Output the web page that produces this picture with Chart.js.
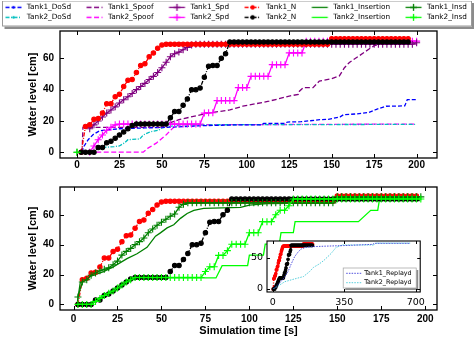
<!DOCTYPE html>
<html>
<head>
<meta charset="utf-8">
<script src="https://cdn.jsdelivr.net/npm/chart.js@4.4.0/dist/chart.umd.min.js"></script>
<style>
  html, body { margin: 0; padding: 0; background: #fff; overflow: hidden; }
  #wrap { position: relative; width: 474px; height: 338px; overflow: hidden; }
  #wrap canvas { position: absolute; }
</style>
</head>
<body>
<div id="wrap">
  <canvas id="top" width="484" height="174" style="left:-10px;top:1px"></canvas>
  <canvas id="bottom" width="474" height="163" style="left:0;top:175px"></canvas>
  <canvas id="inset" width="190" height="80" style="left:240px;top:230px"></canvas>
</div>
<script>
// sample times [s] shared by the marker series
const T = [0,2.5,5,7.5,10,12.5,15,17.5,20,22.5,25,27.5,30,32.5,35,37.5,40,42.5,45,47.5,
  50,52.5,55,57.5,60,62.5,65,67.5,70,72.5,75,77.5,80,82.5,85,87.5,90,92.5,95,97.5,
  100,102.5,105,107.5,110,112.5,115,117.5,120,122.5,125,127.5,130,132.5,135,137.5,140,142.5,145,147.5,
  150,152.5,155,157.5,160,162.5,165,167.5,170,172.5,175,177.5,180,182.5,185,187.5,190,192.5,195,197.5,200];

const tank1N = [null,0,16.5,17.5,21,21.5,25,31,31,35.5,
  37,42,46,46.5,51,55.5,56.5,61,63.5,66.5,
  68.5,69,69,69,69,69,69,69,69,69,
  69,69,69,69,69,69,69,69,69,69,
  69,69,69,69,69,69,69,69,69,69,
  69,69,69,69,69,69,69,69,69,69,
  72.5,72.5,72.5,72.5,72.5,72.5,72.5,72.5,72.5,72.5,
  72.5,72.5,72.5,72.5,72.5,72.5,72.5,72.5,72.5,null,null];
const tank2N = [null,0,0,0,0,3,3,6,7,9,
  11,13,15,17,18,18,18,18,18,18,
  18,18,22,26,26,30,34,40,40,41,
  48,55,55.5,55.5,60,63,70.5,70.5,70.5,70.5,
  70.5,70.5,70.5,70.5,70.5,70.5,70.5,70.5,70.5,70.5,
  70.5,70.5,70.5,70.5,70.5,70.5,70.5,70.5,70.5,70.5,
  70.5,70.5,70.5,70.5,70.5,70.5,70.5,70.5,70.5,70.5,
  70.5,70.5,70.5,70.5,70.5,70.5,70.5,70.5,70.5,null,null];
const tank1Spd = [null,null,null,15,17.5,20,22.5,25,27,29,
  31.5,33.5,35.5,37.5,40,42,44,46.5,48.5,51,
  54,57.5,61,63,64,65.5,67,68.5,69,69,
  69,69,69,69,69,69,69,69,69,69,
  69,69,69,69,69,69,69,69,69,69,
  69,69,69,69,69,69,69,69,69,69,
  69,69,69,69,69,69,69,69,69,69,
  69,69,69,69,69,69,69,69,69,69,70];
const tank2Spd = [null,null,null,0,4,8,11,14,16,17.5,
  18,18,18,18,18,18,18,18,18,18,
  18,18,18,18,18,18,18,18,18,18,
  25,25.2,25.2,33,33,33,33,33,41.3,41.3,
  41.3,48.5,48.5,48.5,48.5,48.5,56,56,56,56,
  63.5,63.5,63.5,63.5,71,71,71,71,71,71,
  71,71,71,71,71,71,71,71,71,71,
  71,71,71,71,71,71,71,71,71,71,71];
const tank1Insd = [null,5,15,16.5,19.5,21,22.5,23.5,24.5,26.5,
  29,33,35.5,37.5,40,42,44.5,48,50.5,53,
  55,57,59,60.5,65,67,68,68,68,68,
  68,68,68,68,68,68,68,68,68,68,
  68,68,68,68,68,68,68,68,68,68,
  68,68,68,68,68,68,68,68,68,68,
  72,72,72,72,72,72,72,72,72,72,
  72,72,72,72,72,72,72,72,72,72,null];
const tank2Insd = [null,0,0,0,0,2,4,6,7.5,9,
  11,13,15,16.5,18,18,18,18,18,18,
  18,18,18,18,18,18,18,18,18,18,
  22,25.2,25.2,32.8,32.8,36,40.3,40.3,40.3,40.3,
  48,48,48,55.4,55.4,55.4,60,63,63,66,
  70.6,70.6,70.6,70.6,70.6,70.6,70.6,70.6,70.6,70.6,
  70.6,70.6,70.6,70.6,70.6,70.6,70.6,70.6,70.6,70.6,
  70.6,70.6,70.6,70.6,70.6,70.6,70.6,70.6,70.6,70.6,null];

// line-only series: their own break points
const dosd1T = [3,4,6.6,9.4,13.4,19,25,40,55,75,95,108,110,122,124,132,143,148,155,157,165,172,176,182,193,194.5,200.5];
const dosd1V = [0,3.6,8,11.2,13.7,14.4,15,15.5,16,17,17.5,17.5,18.5,18.5,19.3,19.5,20.8,21,22.6,24,24.5,25.5,27.3,29.4,29.6,33.6,33.6];
const dosd2T = [15,22,25,28,30,37,39,43,48,50,55,60,200];
const dosd2V = [3,3.6,4,6,8,8.5,11,13,14,15.5,16.5,17.5,17.8];
const spoof1T = [3,3.5,50,54.5,60,78,90,97.6,113,125,130.4,131,133.3,139,142.7,150,154.5,157.5,160.4,166.3,172,175,180,200];
const spoof1V = [0,15.9,15.9,18.7,20.8,25.2,27,29.4,32.6,35.9,37,39,41.3,41.3,45.5,47,48.8,54,57.4,61.7,66,68.1,69.5,70];
const spoof2T = [2.5,39,41.8,46.7,52.6,56.5,60,200];
const spoof2V = [0,0,2.6,5.8,11.2,15.5,17.5,18];
const ins1T = [2,3,3.8,9.5,17.1,22.8,30.4,36.1,41.8,46.6,49.4,53.2,57,60.8,64.6,68.4,74,95,100,110,148,150,197];
const ins1V = [0,8,14.4,18.8,22,25.3,30.6,33.9,38.2,45.7,47.9,51.2,53.3,57.6,60.9,63,64.3,65,66.5,67.5,68,69.5,69.5];
const ins2T = [2,9,12,16,20,24,28,32,35,81,84.5,99,100,108,109,117,118,125,126,162,169,173,174,197];
const ins2V = [0,0,3,5,7,10,13,16,17.7,17.7,25.9,25.9,33,33,40.3,40.3,48,48,55.4,55.4,63,63,70.3,70.3];
// the top panel only carries the insertion runs at the origin
const originT = [0];
const originV = [0];

// replay runs (inset, long time scale)
const repl1T = [3,20,40,60,75,90,107,125,139,160,178,250,346,420,490,497,673];
const repl1V = [0,5,12,20,28,40,52,60,64.5,67,68,69,70,71,72,73.7,73.7];
const repl2T = [3,59,115,150,180,200,226,250,285,310,340,495,505,673];
const repl2V = [0,11.8,17,20,28,35,40,46,57,67,71,71,74,74];

const xTicks = [0,25,50,75,100,125,150,175,200];
const yTicks = [0,20,40,60];
const insetXTicks = [0,350,700];
const insetYTicks = [0,50];

const pts = (xs, ys) => xs.map((x, i) => ({ x: x, y: ys[i] }));

const tickFont = { family: 'Liberation Sans', size: 10, weight: 'bold' };
const titleFont = { family: 'Liberation Sans', size: 11, weight: 'bold' };
const dashDot = [4, 1.5, 1, 1.5];

const styles = {
  Tank1_DoSd: { c: '#0000ff', dash: [4, 2], mark: '.', o: 6 },
  Tank2_DoSd: { c: '#00bfbf', dash: dashDot, mark: '.', o: 6 },
  Tank1_Spoof: { c: '#800080', dash: [5, 2.5], o: 6 },
  Tank2_Spoof: { c: '#ff00ff', dash: [5, 2.5], o: 6 },
  Tank1_Spd: { c: '#800080', ps: 'cross', r: 3.5, mark: '+', o: 4 },
  Tank2_Spd: { c: '#ff00ff', ps: 'cross', r: 3.5, mark: '+', o: 4 },
  Tank1_N: { c: '#ff0000', dash: dashDot, ps: 'circle', r: 2.2, mark: 'o', o: 3 },
  Tank2_N: { c: '#000000', dash: dashDot, ps: 'circle', r: 2.2, mark: 'o', o: 2 },
  Tank1_Insertion: { c: '#008000', o: 5 },
  Tank2_Insertion: { c: '#00ff00', o: 5 },
  Tank1_Insd: { c: '#008000', ps: 'cross', r: 3.5, mark: '+', o: 1 },
  Tank2_Insd: { c: '#00ff00', ps: 'cross', r: 3.5, mark: '+', o: 0 },
};

function ds(label, data, r) {
  const s = styles[label];
  return {
    label: label,
    data: data,
    borderColor: s.c,
    backgroundColor: s.c,
    pointBackgroundColor: s.c,
    borderWidth: 1.3,
    borderDash: s.dash || [],
    pointStyle: s.ps || 'circle',
    pointRadius: r !== undefined ? r : (s.r || 0),
    pointBorderWidth: 1.1,
    order: s.o,
    mark: s.mark || '',
    fill: false,
    tension: 0,
  };
}

// legend handle: line sample with the marker in its middle
const iconW = 30.5;
function legendIcon(d) {
  const c = document.createElement('canvas');
  c.width = iconW; c.height = 9;
  const g = c.getContext('2d');
  const x1 = iconW - 2, x0 = x1 - 16, xm = x1 - 8, ym = 4.5;
  g.strokeStyle = d.borderColor;
  g.fillStyle = d.borderColor;
  g.lineWidth = 1.3;
  g.setLineDash(d.borderDash);
  g.beginPath(); g.moveTo(x0, ym); g.lineTo(x1, ym); g.stroke();
  g.setLineDash([]);
  if (d.mark === 'o' || d.mark === '.') {
    g.beginPath(); g.arc(xm, ym, d.mark === 'o' ? 2.2 : 1.3, 0, 2 * Math.PI); g.fill();
  } else if (d.mark === '+') {
    g.beginPath(); g.moveTo(xm - 3.5, ym); g.lineTo(xm + 3.5, ym);
    g.moveTo(xm, ym - 3.5); g.lineTo(xm, ym + 3.5); g.stroke();
  }
  return c;
}

// inward ticks on all four sides plus the frame
const frameTicks = {
  id: 'frameTicks',
  beforeDraw(chart, args, opts) {
    if (!opts.fill) return;
    const { ctx, chartArea: a } = chart;
    ctx.save();
    ctx.fillStyle = '#fff';
    ctx.fillRect(a.left, a.top, a.width, a.height);
    ctx.restore();
  },
  afterDraw(chart, args, opts) {
    const { ctx, chartArea: a } = chart;
    const xs = chart.scales.x, ys = chart.scales.y;
    const len = opts.len || 4;
    ctx.save();
    ctx.strokeStyle = '#000';
    ctx.lineWidth = 1;
    ctx.beginPath();
    xs.ticks.forEach(t => {
      const p = Math.round(xs.getPixelForValue(t.value)) + 0.5;
      ctx.moveTo(p, a.bottom); ctx.lineTo(p, a.bottom - len);
      ctx.moveTo(p, a.top); ctx.lineTo(p, a.top + len);
    });
    ys.ticks.forEach(t => {
      const p = Math.round(ys.getPixelForValue(t.value)) + 0.5;
      ctx.moveTo(a.left, p); ctx.lineTo(a.left + len, p);
      ctx.moveTo(a.right, p); ctx.lineTo(a.right - len, p);
    });
    ctx.stroke();
    ctx.lineWidth = opts.frame || 1.3;
    ctx.strokeRect(a.left, a.top, a.width, a.height);
    ctx.restore();
  }
};

// boxed, shadowed frame behind the main legend
const legendFrame = {
  id: 'legendFrame',
  beforeDraw(chart) {
    const L = chart.legend;
    const { ctx } = chart;
    const x = L.left + 12, y = L.top - 0.5, w = 470, h = 26;
    ctx.save();
    ctx.fillStyle = 'rgba(0,0,0,0.45)';
    ctx.fillRect(x + 2.5, y + 2.5, w, h);
    ctx.fillStyle = '#fff';
    ctx.fillRect(x, y, w, h);
    ctx.strokeStyle = '#999';
    ctx.lineWidth = 1;
    ctx.strokeRect(x + 0.5, y + 0.5, w - 1, h - 1);
    ctx.restore();
  }
};

// small legend in the lower right of the inset
const insetLegend = {
  id: 'insetLegend',
  afterDraw(chart) {
    const { ctx, chartArea: a } = chart;
    const items = chart.data.datasets.filter(d => d.inLegend);
    const w = 73, h = 20, x = a.right - 4 - w, y = a.bottom - 4 - h;
    ctx.save();
    ctx.fillStyle = 'rgba(0,0,0,0.45)';
    ctx.fillRect(x + 2, y + 2, w, h);
    ctx.fillStyle = '#fff';
    ctx.fillRect(x, y, w, h);
    ctx.strokeStyle = '#aaa';
    ctx.lineWidth = 0.8;
    ctx.strokeRect(x, y, w, h);
    ctx.font = '6.4px "DejaVu Sans"';
    ctx.textBaseline = 'middle';
    items.forEach((d, i) => {
      const yy = y + 5.3 + i * 9.4;
      ctx.strokeStyle = d.borderColor;
      ctx.lineWidth = d.borderWidth;
      ctx.setLineDash(d.borderDash);
      ctx.beginPath(); ctx.moveTo(x + 3, yy); ctx.lineTo(x + 18, yy); ctx.stroke();
      ctx.setLineDash([]);
      ctx.fillStyle = '#000';
      ctx.fillText(d.label, x + 21, yy);
    });
    ctx.restore();
  }
};

function axis(min, max, vals, font, pad) {
  return {
    type: 'linear',
    min: min,
    max: max,
    afterBuildTicks: s => { s.ticks = vals.map(v => ({ value: v })); },
    grid: { display: false, drawTicks: false },
    border: { display: false },
    ticks: { color: '#000', font: font, padding: pad, autoSkip: false, maxRotation: 0 },
  };
}

const yTitle = {
  display: true, text: 'Water level [cm]', color: '#000', font: titleFont,
  padding: { top: 36, bottom: 0 },
};

// top panel
const topX = axis(-10, 212, xTicks, tickFont, 1.5);
topX.afterFit = s => { s.height = 17; };
const topY = axis(-3.7, 77.5, yTicks, tickFont, 6);
topY.afterFit = s => { s.width = 70; };
topY.title = yTitle;

new Chart(document.getElementById('top'), {
  type: 'line',
  data: {
    datasets: [
      ds('Tank1_DoSd', pts(dosd1T, dosd1V)),
      ds('Tank1_Spoof', pts(spoof1T, spoof1V)),
      ds('Tank1_Spd', pts(T, tank1Spd)),
      ds('Tank1_N', pts(T, tank1N)),
      ds('Tank1_Insertion', pts(originT, originV)),
      ds('Tank1_Insd', pts(originT, originV)),
      ds('Tank2_DoSd', pts(dosd2T, dosd2V)),
      ds('Tank2_Spoof', pts(spoof2T, spoof2V)),
      ds('Tank2_Spd', pts(T, tank2Spd)),
      ds('Tank2_N', pts(T, tank2N)),
      ds('Tank2_Insertion', pts(originT, originV)),
      ds('Tank2_Insd', pts(originT, originV)),
    ]
  },
  options: {
    responsive: false,
    animation: false,
    layout: { padding: 0 },
    plugins: {
      tooltip: { enabled: false },
      frameTicks: { len: 4 },
      legend: {
        position: 'top',
        align: 'start',
        labels: {
          usePointStyle: true,
          pointStyleWidth: iconW,
          padding: 2.7,
          color: '#000',
          font: { family: 'DejaVu Sans', size: 7.3 },
          generateLabels: chart => chart.data.datasets.map((d, i) => ({
            text: d.label,
            pointStyle: legendIcon(d),
            datasetIndex: i,
            hidden: false,
            lineWidth: 0,
            strokeStyle: 'rgba(0,0,0,0)',
            fillStyle: 'rgba(0,0,0,0)',
            fontColor: '#000',
          })),
        },
      },
    },
    scales: {
      x: topX,
      y: topY,
      yR: {
        position: 'right',
        afterFit: s => { s.width = 37; },
        grid: { display: false, drawTicks: false },
        border: { display: false },
        ticks: { display: false },
      },
    },
  },
  plugins: [legendFrame, frameTicks],
});

// bottom panel
const botX = axis(-7.7, 206.7, xTicks, tickFont, 3);
botX.afterFit = s => { s.height = 28; };
botX.title = { display: true, text: 'Simulation time [s]', color: '#000', font: titleFont, padding: { top: 0, bottom: 0 } };
const botY = axis(-3.75, 78.6, yTicks, tickFont, 6);
botY.afterFit = s => { s.width = 60; };
botY.title = Object.assign({}, yTitle, { padding: { top: 26, bottom: 0 } });

new Chart(document.getElementById('bottom'), {
  type: 'line',
  data: {
    datasets: [
      ds('Tank1_N', pts(T, tank1N)),
      ds('Tank2_N', pts(T, tank2N)),
      ds('Tank1_Insertion', pts(ins1T, ins1V)),
      ds('Tank2_Insertion', pts(ins2T, ins2V)),
      ds('Tank1_Insd', pts(T, tank1Insd)),
      ds('Tank2_Insd', pts(T, tank2Insd)),
    ]
  },
  options: {
    responsive: false,
    animation: false,
    layout: { padding: { top: 8, right: 37, left: 0, bottom: 0 } },
    plugins: { legend: { display: false }, tooltip: { enabled: false }, frameTicks: { len: 4 } },
    scales: { x: botX, y: botY },
  },
  plugins: [frameTicks],
});

// inset: replay runs on the long time axis
const insetFont = { family: 'DejaVu Sans', size: 9.5 };
const inX = axis(-28, 722, insetXTicks, insetFont, 5);
inX.afterFit = s => { s.height = 18; };
const inY = axis(-4.8, 77.4, insetYTicks, insetFont, 4);
inY.afterFit = s => { s.width = 27; };

const replay = (label, xs, ys, color) => ({
  label: label, data: pts(xs, ys), borderColor: color, backgroundColor: color,
  borderWidth: 0.9, borderDash: [1.5, 1.2], pointRadius: 0, fill: false, tension: 0, inLegend: true,
});

new Chart(document.getElementById('inset'), {
  type: 'line',
  data: {
    datasets: [
      ds('Tank1_N', pts(T, tank1N), 1.3),
      ds('Tank2_N', pts(T, tank2N), 1.3),
      replay('Tank1_Replayd', repl1T, repl1V, '#3b3bd9'),
      replay('Tank2_Replayd', repl2T, repl2V, '#45c8d8'),
    ]
  },
  options: {
    responsive: false,
    animation: false,
    layout: { padding: { top: 11, right: 7, left: 0, bottom: 0 } },
    plugins: { legend: { display: false }, tooltip: { enabled: false }, frameTicks: { len: 3, fill: true, frame: 1.1 } },
    scales: { x: inX, y: inY },
  },
  plugins: [frameTicks, insetLegend],
});
</script>
</body>
</html>
